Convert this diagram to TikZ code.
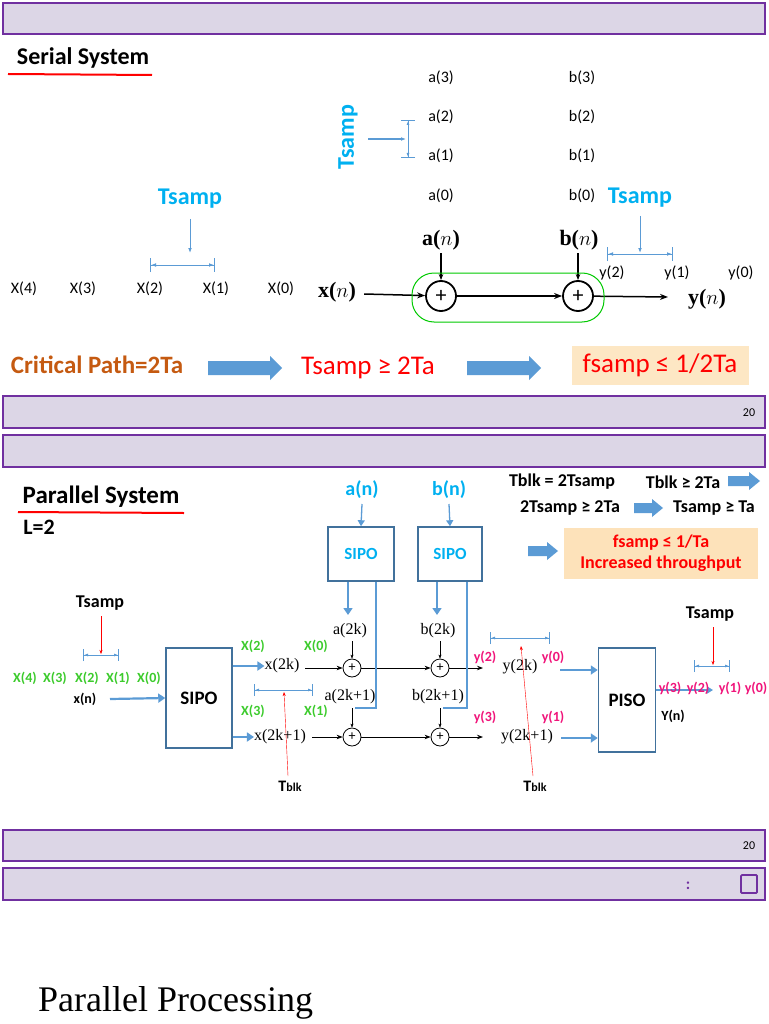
\documentclass[tikz,border=0pt]{standalone}
\usepackage{fontspec}
\setmainfont{Carlito}
\newfontfamily\serifjp{Liberation Serif}
\usetikzlibrary{arrows.meta}
\definecolor{barfill}{HTML}{DCD6E6}
\definecolor{barline}{HTML}{7030A0}
\definecolor{skyb}{HTML}{00B0F0}
\definecolor{lineb}{HTML}{5B9BD5}
\definecolor{boxb}{HTML}{41719C}
\definecolor{grn}{HTML}{3CCB2C}
\definecolor{mag}{HTML}{F0147A}
\definecolor{orng}{HTML}{C55A11}
\definecolor{yel}{HTML}{FDE7C4}
\newcommand{\fs}[1]{\fontsize{#1}{#1}\selectfont}
% block arrow: start x, y, length, half thickness, head half width, head length
\newcommand{\blockarrow}[6]{%
  \fill[lineb] (#1,#2-#4) -- (#1+#3-#6,#2-#4) -- (#1+#3-#6,#2-#5) -- (#1+#3,#2)
    -- (#1+#3-#6,#2+#5) -- (#1+#3-#6,#2+#4) -- (#1,#2+#4) -- cycle;}
\begin{document}
\begin{tikzpicture}[x=1pt,y=-1pt,
  bar/.style={draw=barline,fill=barfill,line width=2.5pt},
  lbl/.style={inner sep=0pt,font=\fs{16}},
  sk/.style={inner sep=0pt,font=\fs{24}\bfseries,text=skyb},
  gl/.style={inner sep=0pt,font=\fs{14}\bfseries,text=grn},
  ml/.style={inner sep=0pt,font=\fs{14}\bfseries,text=mag},
  sl/.style={inner sep=0pt,font=\serifjp\fs{16}},
  add/.style={circle,draw,thick,minimum size=#1,inner sep=0pt},
  blu/.style={draw=lineb,line width=1.3pt},
  bluarr/.style={draw=lineb,line width=2.2pt,-{Triangle[length=7pt,width=9pt]}},
  dim/.style={draw=lineb,line width=1pt,{Bar[width=14pt]Latex[length=5pt]}-{Latex[length=5pt]Bar[width=14pt]}},
  bk/.style={draw,thick,-{Stealth[length=6pt]}},
  redarr/.style={draw=red,thin,-{Stealth[length=4pt]}},
  sbox/.style={draw=boxb,line width=1.5pt,inner sep=0pt}]
\useasboundingbox (0,0) rectangle (768,1024);
% bars
\draw[bar] (3,3) rectangle (765,34);
\draw[bar] (3,396) rectangle (765,428);
\draw[bar] (3,435) rectangle (765,467);
\draw[bar] (3,830) rectangle (765,861);
\draw[bar] (3,868) rectangle (765,900);
\node[inner sep=0pt,font=\fs{12}] (pg1) at (749,413) {20};
\node[inner sep=0pt,font=\fs{12}] (pg2) at (749,846) {20};
\node[inner sep=0pt,font=\fs{16}\bfseries,text=barline] (col) at (688,886) {:};
\draw[barline,line width=1.8pt,rounded corners=1pt] (741,875) rectangle (757,893);
% serial system
\node[inner sep=0pt,font=\fs{24}\bfseries] (ss) at (83,58) {Serial System};
\draw[red,line width=2pt] (8,74) -- (152,75);
\foreach \i/\y in {3/78,2/117,1/156,0/196}{
  \node[lbl] (a\i) at (441,\y) {a(\i)};
  \node[lbl] (b\i) at (582,\y) {b(\i)};}
\node[sk,rotate=90] (tsv) at (348,137) {Tsamp};
\coordinate (dv1) at (408,120); \coordinate (dv2) at (408,158);
\draw[dim,{Bar[width=14pt]Latex[length=4pt]}-{Latex[length=4pt]Bar[width=14pt]}] (dv1) -- (dv2);
\draw[draw=lineb,line width=1.5pt,-{Latex[length=5pt]}] (368,139) -- (406,139);
\node[sk] (ts1) at (190,199) {Tsamp};
\coordinate (d1a) at (150,265); \coordinate (d1b) at (215,265);
\draw[dim] (d1a) -- (d1b);
\draw[draw=lineb,line width=1pt,-{Latex[length=5pt]}] (190,219) -- (190,253);
\foreach \n/\x in {4/24,3/83,2/150,1/216,0/281}{
  \node[lbl] (X\n) at (\x,289) {X(\n)};}
\node[sl,font=\serifjp\fs{22}\bfseries] (xn) at (337,292) {x($n$)};
\node[add=30pt,line width=1.8pt,font=\fs{22}] (s1) at (441,296) {+};
\node[add=30pt,line width=1.8pt,font=\fs{22}] (s2) at (578,296) {+};
\node[sl,font=\serifjp\fs{22}\bfseries] (yn) at (707,299) {y($n$)};
\node[sl,font=\serifjp\fs{22}\bfseries] (an) at (441,240) {a($n$)};
\node[sl,font=\serifjp\fs{22}\bfseries] (bn) at (579,240) {b($n$)};
\draw[line width=1.5pt,-{Stealth[length=8pt]}] (xn.east) ++(8,2) -- (s1);
\draw[line width=1.5pt,-{Stealth[length=8pt]}] (s1) -- (s2);
\draw[line width=1.5pt,-{Stealth[length=8pt]}] (s2) -- (668,297);
\draw[line width=1.5pt,-{Stealth[length=6pt]}] (441,253) -- (s1.north);
\draw[line width=1.5pt,-{Stealth[length=6pt]}] (578,253) -- (s2.north);
\draw[green!70!black!70!green,line width=1pt,rounded corners=22pt] (412,273) rectangle (604,322);
\node[sk] (ts2) at (640,198) {Tsamp};
\coordinate (d2a) at (607,254); \coordinate (d2b) at (673,254);
\draw[dim] (d2a) -- (d2b);
\draw[draw=lineb,line width=1pt,-{Latex[length=5pt]}] (640,216) -- (640,253);
\node[lbl] (y2s) at (612,273) {y(2)};
\node[lbl] (y1s) at (677,273) {y(1)};
\node[lbl] (y0s) at (741,273) {y(0)};
\node[inner sep=0pt,font=\fs{25}\bfseries,text=orng] (cp) at (97,365) {Critical Path=2Ta};
\blockarrow{208}{368}{74}{7}{12}{12}
\node[inner sep=0pt,font=\fs{27},text=red] (tg) at (368,368) {Tsamp ≥ 2Ta};
\blockarrow{467}{368}{74}{7}{12}{12}
\node[fill=yel,minimum width=177pt,minimum height=39pt,font=\fs{27},text=red] (fb1) at (660,365) {fsamp ≤ 1/2Ta};
% parallel system
\node[inner sep=0pt,font=\fs{25}\bfseries] (ps) at (101,497) {Parallel System};
\draw[red,line width=2pt] (18,512) -- (184,513);
\node[inner sep=0pt,font=\fs{22}\bfseries] (L2) at (39,527) {L=2};
\node[sk,font=\fs{20}\bfseries] (an2) at (362,490) {a(n)};
\node[sk,font=\fs{20}\bfseries] (bn2) at (449,490) {b(n)};
\node[sbox,minimum width=66pt,minimum height=54pt,font=\fs{17}\bfseries,text=skyb] (sa) at (361,554) {SIPO};
\node[sbox,minimum width=64pt,minimum height=54pt,font=\fs{17}\bfseries,text=skyb] (sb) at (450,554) {SIPO};
\draw[blu,-{Triangle[length=6pt,width=7pt]}] (362,504) -- (sa.north);
\draw[blu,-{Triangle[length=6pt,width=7pt]}] (449,504) -- (sb.north);
\node[inner sep=0pt,font=\fs{18}\bfseries] (e1) at (562,482) {Tblk = 2Tsamp};
\node[inner sep=0pt,font=\fs{18}\bfseries] (e2) at (683,482) {Tblk ≥ 2Ta};
\blockarrow{728}{481}{32}{5}{9}{11}
\node[inner sep=0pt,font=\fs{18}\bfseries] (e3) at (570,508) {2Tsamp ≥ 2Ta};
\blockarrow{634}{508}{29}{5}{9}{11}
\node[inner sep=0pt,font=\fs{18}\bfseries] (e4) at (714,508) {Tsamp ≥ Ta};
\blockarrow{528}{551}{30}{5}{9}{11}
\node[fill=yel!95!orange,minimum width=194pt,minimum height=51pt,align=center,font=\fs{18}\bfseries,text=red] (fb2) at (661,553) {fsamp ≤ 1/Ta\\[3pt]Increased throughput};
% left input
\node[inner sep=0pt,font=\fs{18}\bfseries] (tsl) at (100,603) {Tsamp};
\coordinate (d3a) at (83,655); \coordinate (d3b) at (119,655);
\draw[dim,{Bar[width=12pt]Latex[length=4pt]}-{Latex[length=4pt]Bar[width=12pt]}] (d3a) -- (d3b);
\draw[redarr] (101,616) -- (101,654);
\foreach \n/\x in {4/25,3/55,2/87,1/118,0/149}{
  \node[gl] (Xp\n) at (\x,678) {X(\n)};}
\node[inner sep=0pt,font=\fs{14}\bfseries] (xnp) at (85,699) {x(n)};
\node[sbox,minimum width=66pt,minimum height=100pt,font=\fs{19}\bfseries] (sx) at (199,698) {SIPO};
\draw[bluarr] (110,699) -- (sx.west);
\node[sl] (x2k) at (282,666) {x(2k)};
\node[sl] (x2k1) at (280,737) {x(2k+1)};
\draw[bluarr] (sx.east |- x2k) -- (x2k.west);
\draw[bluarr] (sx.east |- x2k1) -- (x2k1.west);
\node[gl] (g2) at (253,646) {X(2)};
\node[gl] (g0) at (316,646) {X(0)};
\node[gl] (g3) at (253,711) {X(3)};
\node[gl] (g1) at (316,711) {X(1)};
\coordinate (d4a) at (254,690); \coordinate (d4b) at (313,690);
\draw[dim,{Bar[width=12pt]Latex[length=4pt]}-{Latex[length=4pt]Bar[width=12pt]}] (d4a) -- (d4b);
\node[inner sep=0pt,font=\fs{16}\bfseries] (tb1) at (290,786) {T\fs{12}blk};
\draw[redarr] (288,776) -- (284,692);
% adders
\node[add=18pt,font=\fs{14}] (p1) at (352,668) {+};
\node[add=18pt,font=\fs{14}] (p2) at (440,668) {+};
\node[add=18pt,font=\fs{14}] (p3) at (352,737) {+};
\node[add=18pt,font=\fs{14}] (p4) at (440,737) {+};
\draw[bk] (305,668) -- (p1);
\draw[bk] (p1) -- (p2);
\draw[bk] (p2) -- (483,668);
\draw[bk] (312,737) -- (p3);
\draw[bk] (p3) -- (p4);
\draw[bk] (p4) -- (483,737);
\node[sl] (a2k) at (350,631) {a(2k)};
\node[sl] (a2k1) at (350,697) {a(2k+1)};
\node[sl] (b2k) at (438,631) {b(2k)};
\node[sl] (b2k1) at (438,697) {b(2k+1)};
\draw[bk,thin,-{Stealth[length=4pt]}] (352,641) -- (p1.north);
\draw[bk,thin,-{Stealth[length=4pt]}] (440,641) -- (p2.north);
\draw[bk,thin,-{Stealth[length=4pt]}] (352,708) -- (p3.north);
\draw[bk,thin,-{Stealth[length=4pt]}] (440,708) -- (p4.north);
\draw[bluarr,line width=1.6pt] (sa.south -| 348,0) -- (348,615);
\draw[bluarr,line width=1.6pt] (sb.south -| 437,0) -- (437,615);
\draw[blu,line width=1.6pt] (sa.south -| 376,0) -- (376,708) -- (355,708);
\draw[blu,line width=1.6pt] (sb.south -| 467,0) -- (467,708) -- (443,708);
% outputs
\node[ml] (m2) at (485,657) {y(2)};
\node[ml] (m0) at (553,657) {y(0)};
\node[ml] (m3) at (485,717) {y(3)};
\node[ml] (m1) at (553,717) {y(1)};
\node[sl] (y2k) at (520,667) {y(2k)};
\node[sl] (y2k1) at (527,737) {y(2k+1)};
\coordinate (d5a) at (490,638); \coordinate (d5b) at (550,638);
\draw[dim,{Bar[width=12pt]Latex[length=4pt]}-{Latex[length=4pt]Bar[width=12pt]}] (d5a) -- (d5b);
\node[inner sep=0pt,font=\fs{16}\bfseries] (tb2) at (535,786) {T\fs{12}blk};
\draw[redarr] (533,776) -- (521,646);
\node[sbox,minimum width=57pt,minimum height=104pt,font=\fs{19}\bfseries] (po) at (627,700) {PISO};
\draw[bluarr,line width=1.8pt] (560,670) -- (po.west |- 0,670);
\draw[bluarr,line width=1.8pt] (561,738) -- (po.west |- 0,738);
\coordinate (yo) at (713,690);
\draw[blu,line width=1.6pt,-{Triangle[length=6pt,width=7pt]}] (po.east |- yo) -- (yo);
\foreach \n/\x in {3/670,2/698,1/730,0/756}{
  \node[ml] (ym\n) at (\x,688) {y(\n)};}
\node[inner sep=0pt,font=\fs{14}\bfseries] (Yn) at (673,716) {Y(n)};
\node[inner sep=0pt,font=\fs{18}\bfseries] (tsr) at (710,614) {Tsamp};
\coordinate (d6a) at (694,666); \coordinate (d6b) at (730,666);
\draw[dim,{Bar[width=12pt]Latex[length=4pt]}-{Latex[length=4pt]Bar[width=12pt]}] (d6a) -- (d6b);
\draw[redarr] (713,627) -- (713,665);
% footer
\node[anchor=west,inner sep=0pt,font=\serifjp\fs{36}] (pp) at (38,1003) {Parallel Processing};
\end{tikzpicture}
\end{document}
